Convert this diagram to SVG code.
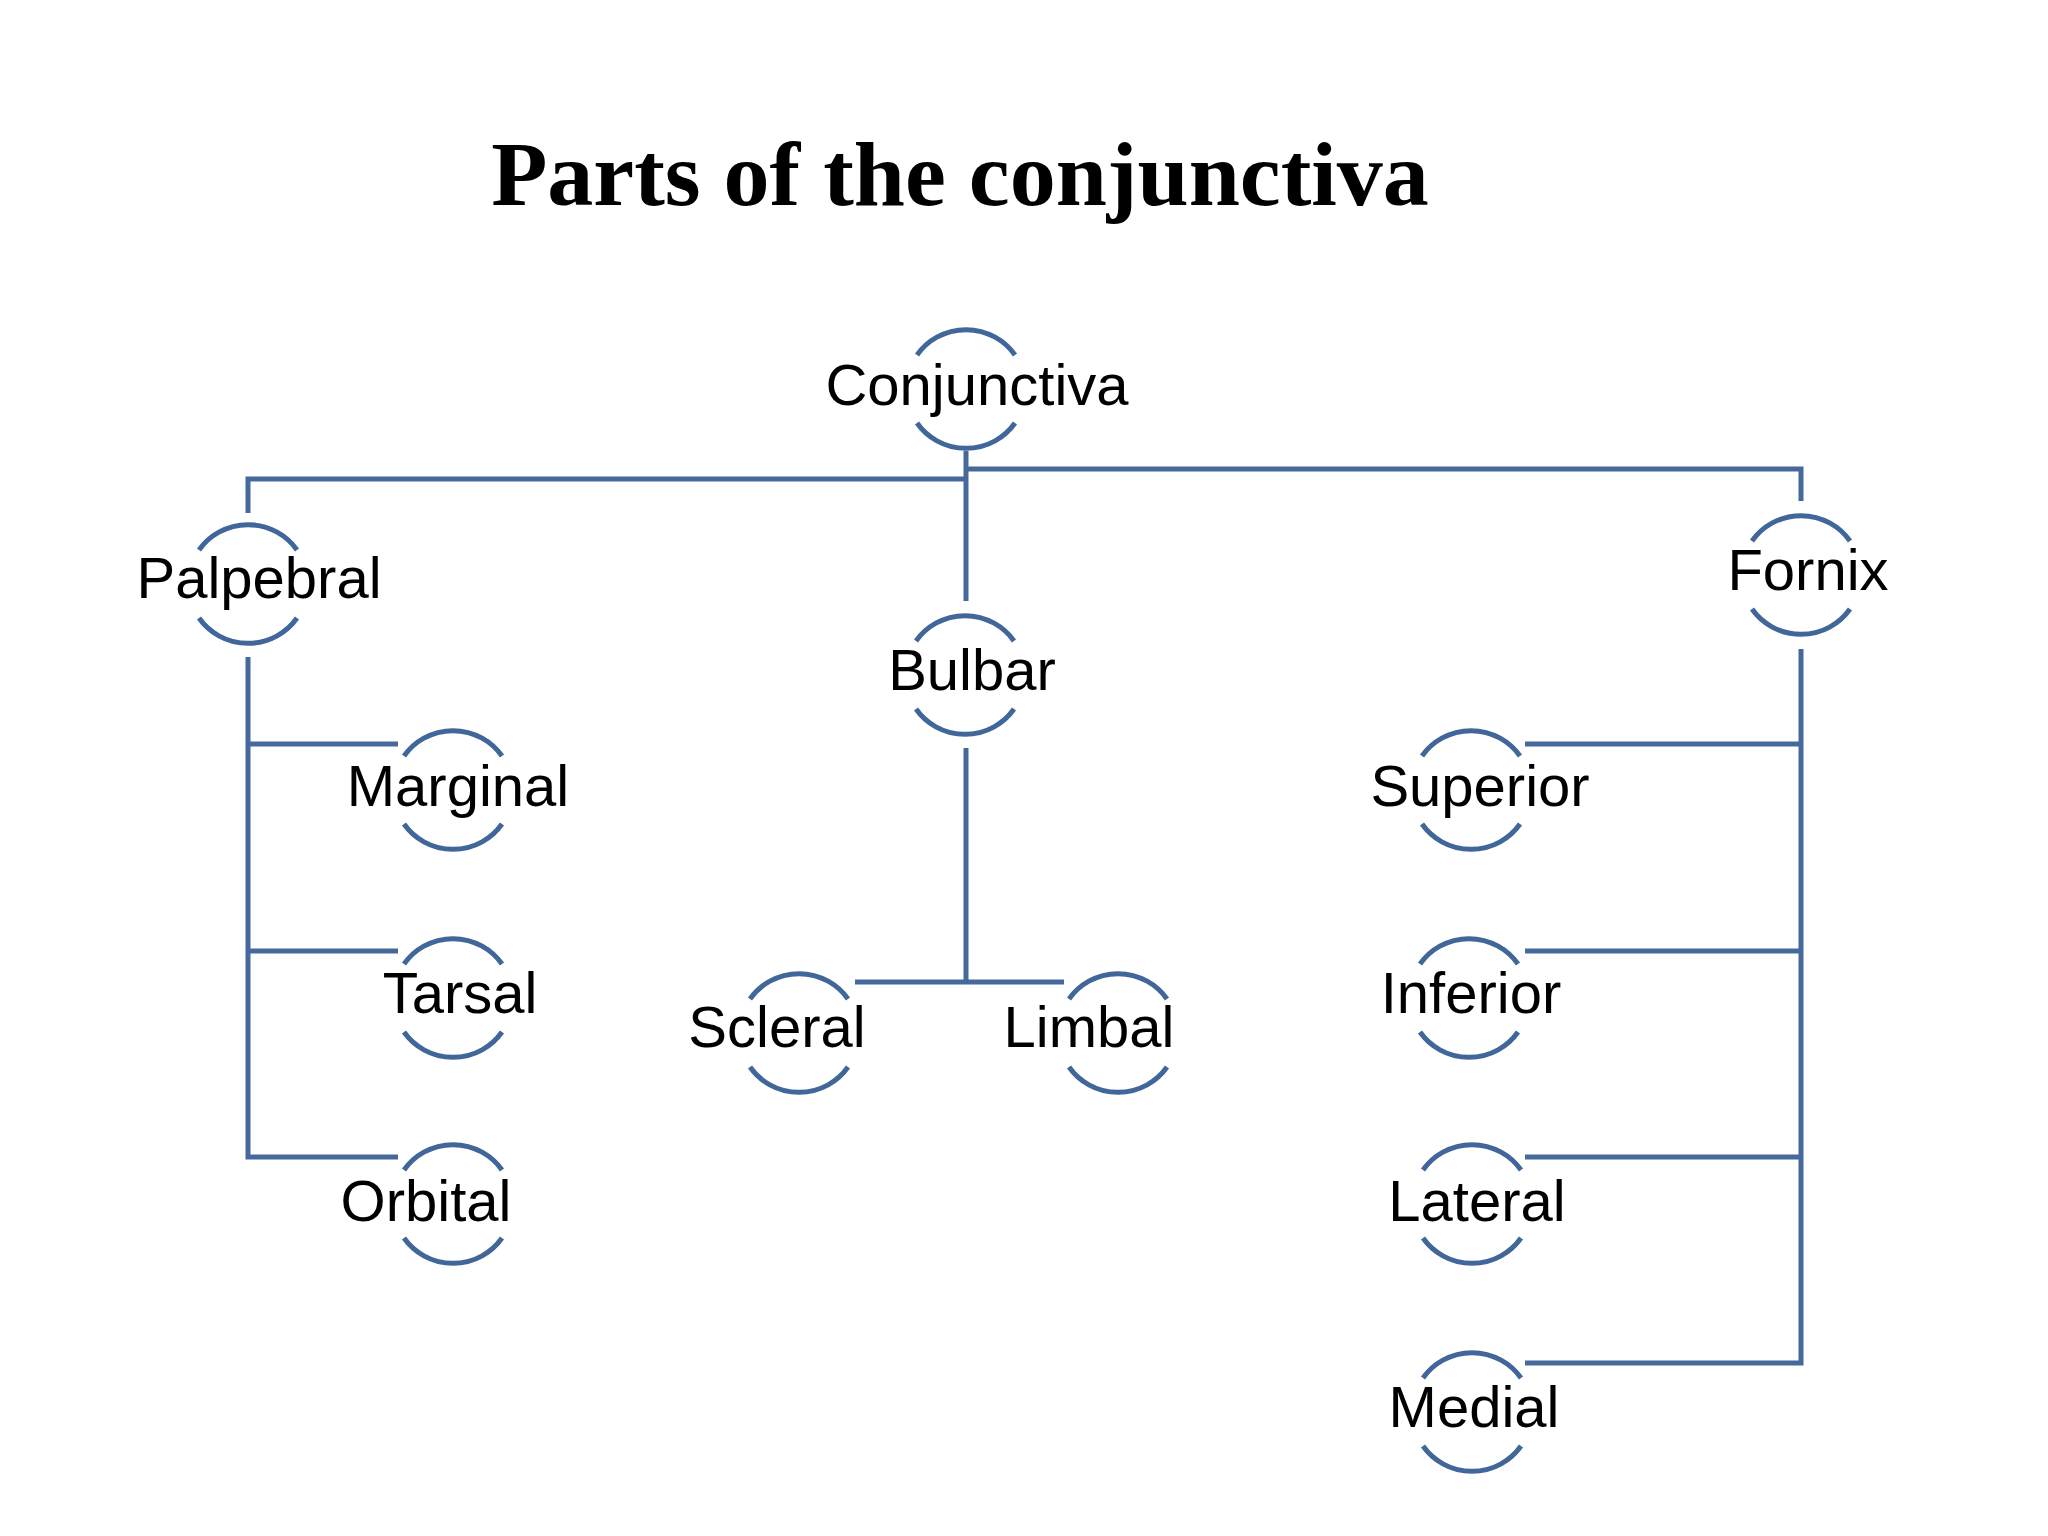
<svg xmlns="http://www.w3.org/2000/svg" width="2048" height="1536" viewBox="0 0 2048 1536">
<style>
.arc{fill:none;stroke:#41679a;stroke-width:5}
.ln{fill:none;stroke:#46699c;stroke-width:5}
.t{font-family:"Liberation Sans",Arial,sans-serif;font-size:58px;fill:#000;text-anchor:middle}
.h{font-family:"Liberation Serif","Times New Roman",serif;font-weight:bold;font-size:92px;fill:#000;text-anchor:middle}
</style>
<defs>
<g id="ring"><path class="arc" d="M-49,-34 A60,60 0 0 1 49,-34"/><path class="arc" d="M-49,34 A60,60 0 0 0 49,34"/></g>
</defs>
<rect width="2048" height="1536" fill="#fff"/>
<text class="h" x="960" y="205">Parts of the conjunctiva</text>
<g id="connectors">
<path class="ln" d="M966,451 V601 M248,513 V479 H966 M966,469 H1801 V501"/>
<path class="ln" d="M248,657 V1157 H398 M248,744 H398 M248,951 H398"/>
<path class="ln" d="M966,748 V982 M855,982 H1064"/>
<path class="ln" d="M1801,649 V1363 H1525 M1801,744 H1525 M1801,951 H1525 M1801,1157 H1525"/>
</g>
<g id="conjunctiva"><use href="#ring" x="966" y="389"/><text class="t" x="977" y="405">Conjunctiva</text></g>
<g id="palpebral"><use href="#ring" x="248" y="584"/><text class="t" x="259" y="598">Palpebral</text></g>
<g id="bulbar"><use href="#ring" x="965" y="675"/><text class="t" x="972" y="690">Bulbar</text></g>
<g id="fornix"><use href="#ring" x="1801" y="575"/><text class="t" x="1808" y="590">Fornix</text></g>
<g id="marginal"><use href="#ring" x="453" y="790"/><text class="t" x="458" y="806">Marginal</text></g>
<g id="tarsal"><use href="#ring" x="453" y="998"/><text class="t" x="460" y="1013">Tarsal</text></g>
<g id="orbital"><use href="#ring" x="453" y="1204"/><text class="t" x="426" y="1221">Orbital</text></g>
<g id="scleral"><use href="#ring" x="799" y="1033"/><text class="t" x="777" y="1047">Scleral</text></g>
<g id="limbal"><use href="#ring" x="1118" y="1033"/><text class="t" x="1089" y="1047">Limbal</text></g>
<g id="superior"><use href="#ring" x="1471" y="790"/><text class="t" x="1480" y="806">Superior</text></g>
<g id="inferior"><use href="#ring" x="1469" y="998"/><text class="t" x="1471" y="1013">Inferior</text></g>
<g id="lateral"><use href="#ring" x="1472" y="1204"/><text class="t" x="1477" y="1221">Lateral</text></g>
<g id="medial"><use href="#ring" x="1472" y="1412"/><text class="t" x="1474" y="1427">Medial</text></g>
</svg>
